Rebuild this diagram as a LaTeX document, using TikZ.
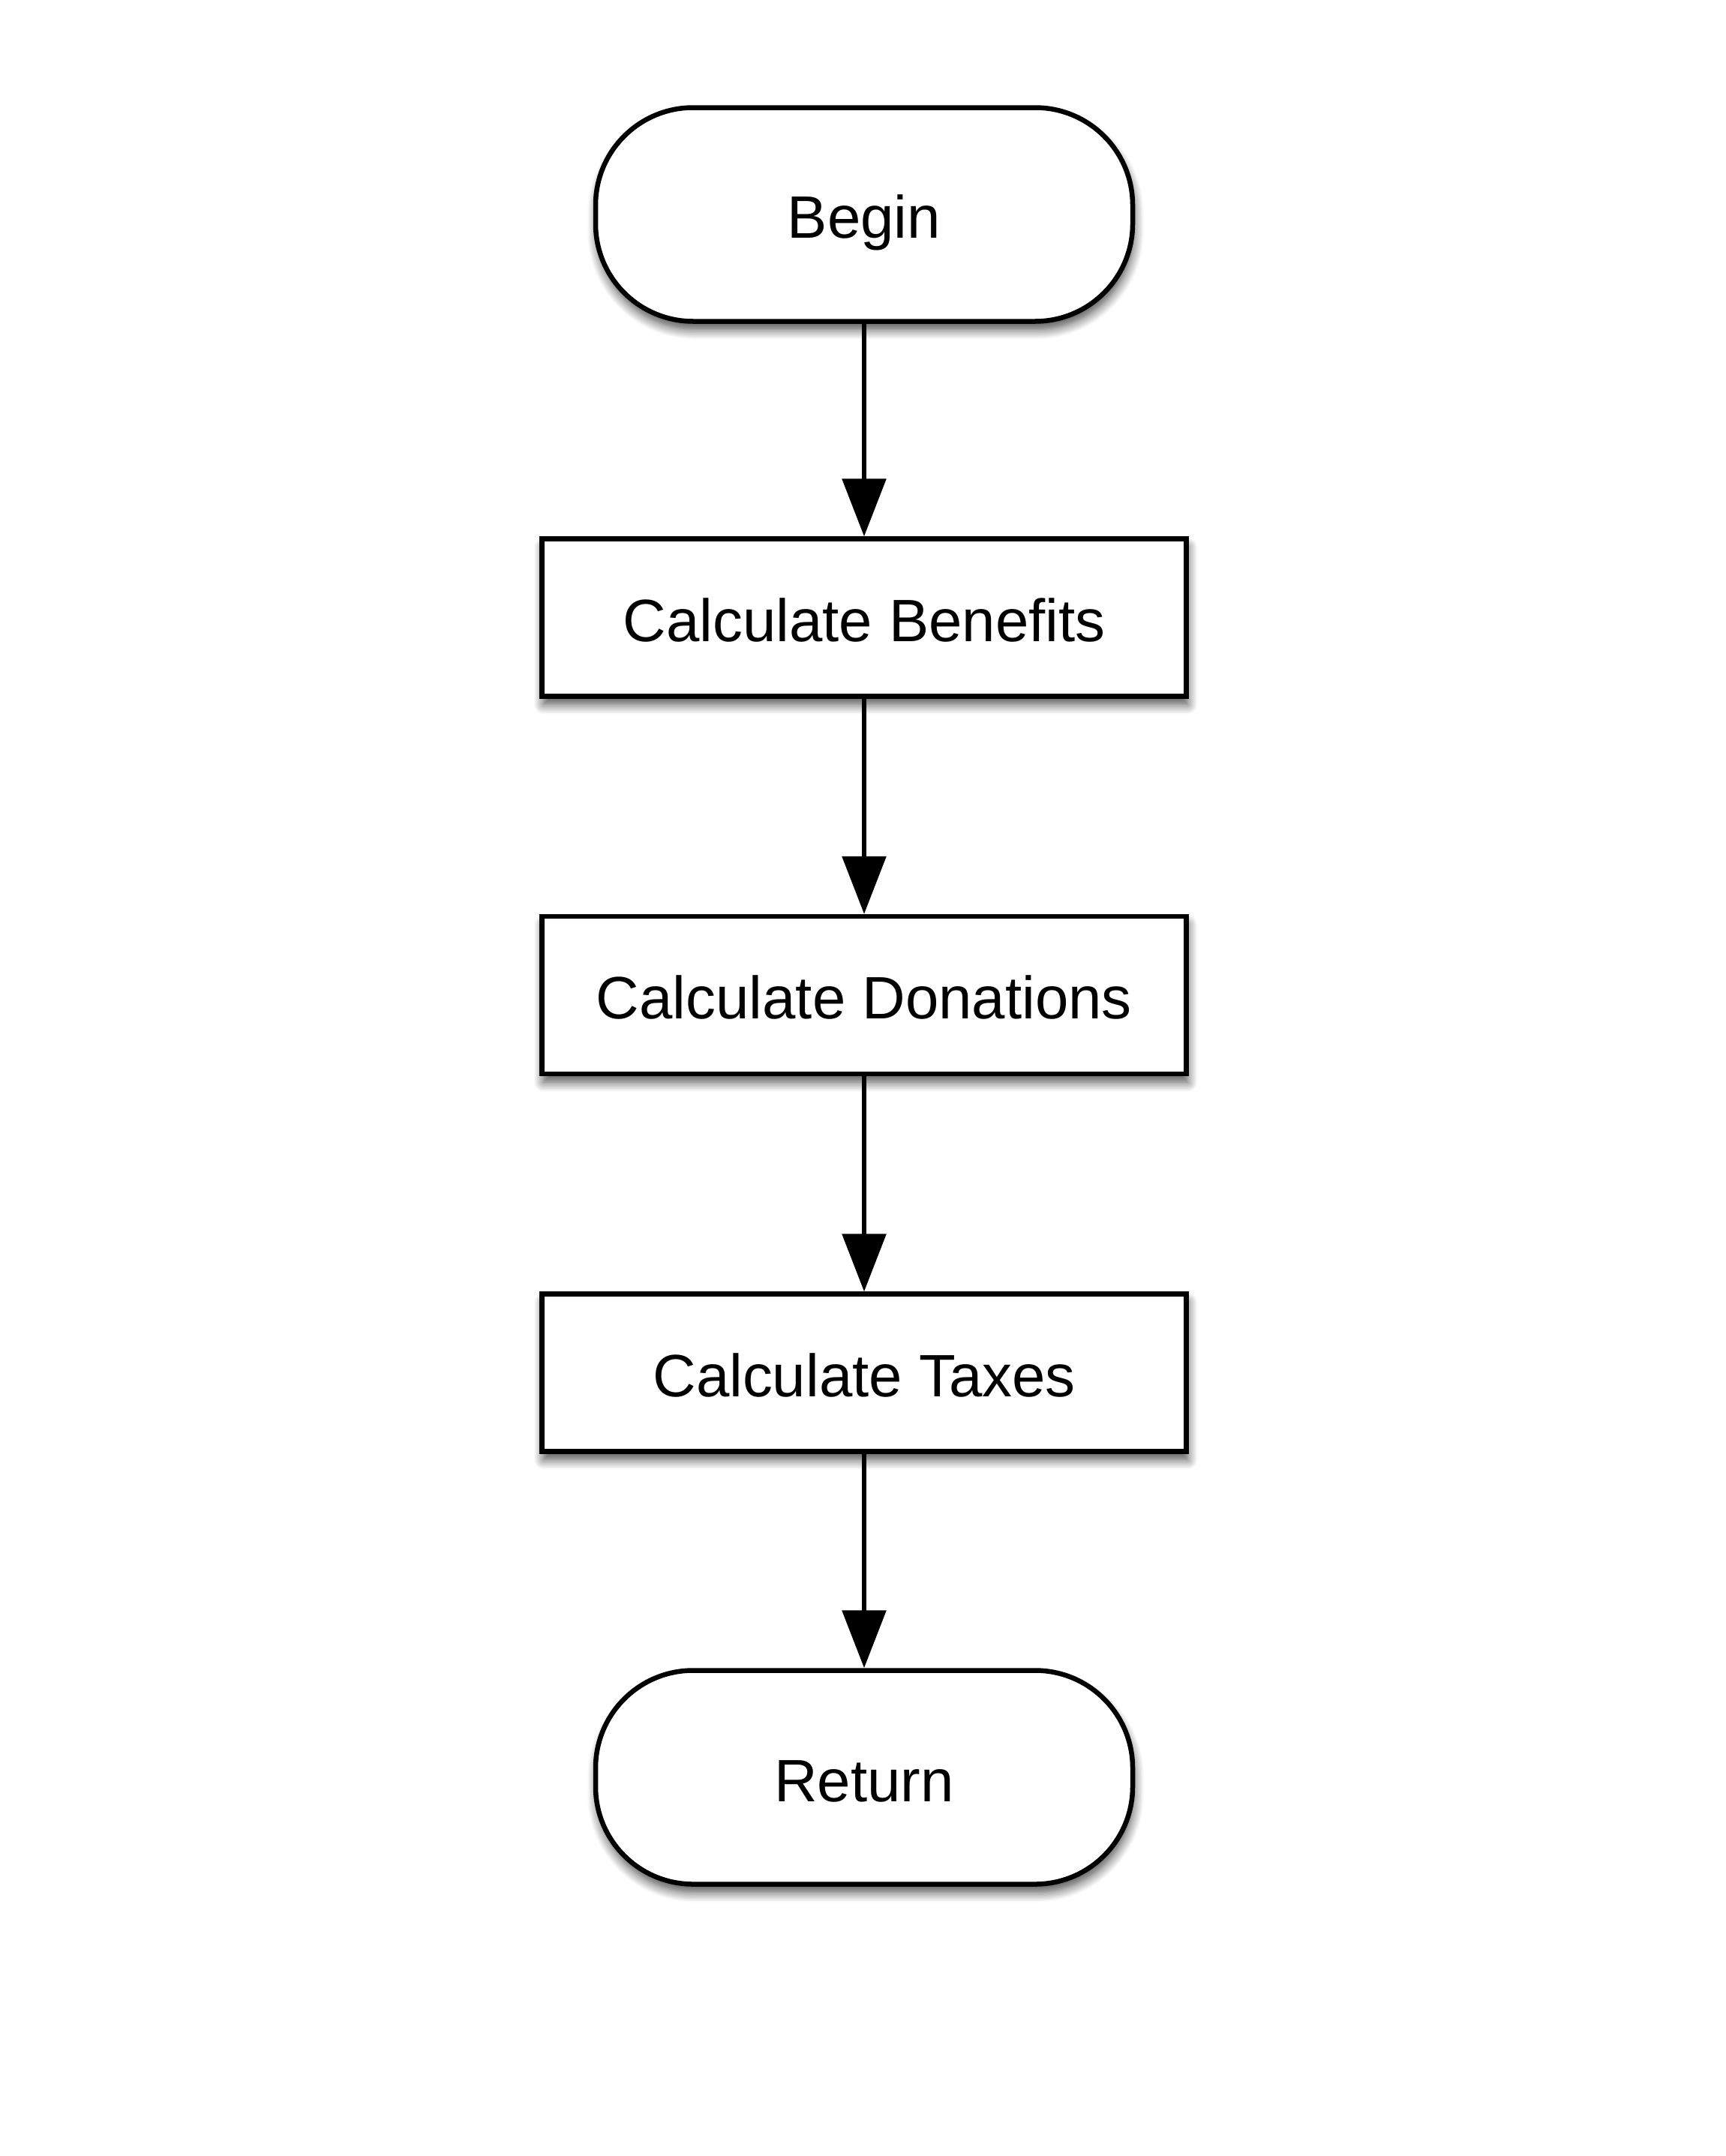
\documentclass[tikz,border=0pt]{standalone}
\usepackage{fontspec}
\setmainfont{Liberation Sans}
\usepackage{tikz}
\usetikzlibrary{arrows.meta,shapes,shadows.blur}
\tikzstyle{shade box}=[blur shadow={shadow xshift=0.02cm,shadow yshift=-0.11cm,shadow blur steps=10,shadow blur radius=0.13cm,shadow opacity=70}]
\tikzstyle{terminal}=[draw,line width=0.065cm,fill=white,rounded corners=1.3cm,minimum width=7.16cm,minimum height=2.85cm,inner sep=0pt,text height=18.2pt,text depth=0pt,shade box,font=\fontsize{22.7pt}{27pt}\selectfont]
\tikzstyle{process}=[terminal,rounded corners=0pt,minimum width=8.59cm,minimum height=2.10cm]
\tikzstyle{flow} = [draw,line width=0.06cm,-{Triangle[length=0.77cm,width=0.58cm]}]

\begin{document}
\begin{tikzpicture}
    \useasboundingbox (0,0) rectangle (23,-28.75);
    % First we draw the start and end
    \foreach \pos/\name/\text in {{(11.52,-2.86)/begin/Begin}, {(11.52,-23.70)/return/Return}}
        \node[terminal] (\name) at \pos {\text};

    % then the steps
    \foreach \pos/\name/\text in {{(11.52,-8.235)/benefits/Calculate Benefits}, {(11.52,-13.27)/donations/Calculate Donations}, {(11.52,-18.305)/taxes/Calculate Taxes}}
        \node[process] (\name) at \pos {\text};

    % Connect steps with arrows
    \foreach \source/ \dest in {begin/benefits, benefits/donations, donations/taxes, taxes/return}
        \path[flow] (\source) -- (\dest) ;
\end{tikzpicture}
\end{document}
